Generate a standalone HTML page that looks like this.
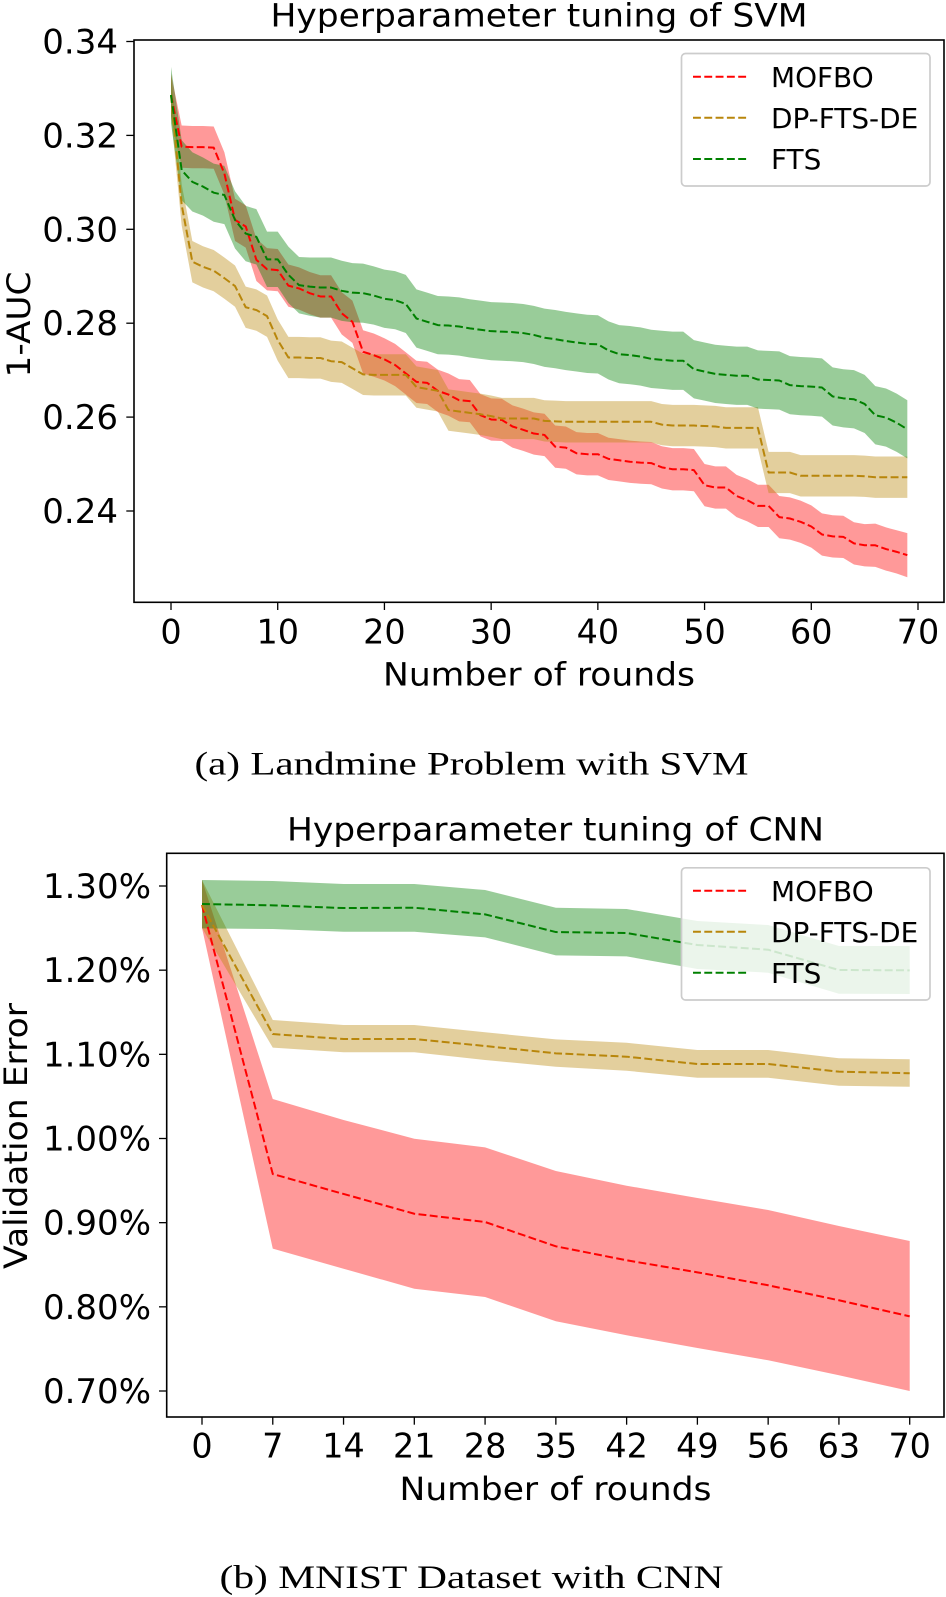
<!DOCTYPE html>
<html>
<head>
<meta charset="utf-8">
<title>Hyperparameter tuning charts</title>
<style>
html,body{margin:0;padding:0;background:#fff;}
svg{display:block;}
text{font-family:"DejaVu Sans","Liberation Sans",sans-serif;fill:#000;}
.cap{font-family:"Liberation Serif",serif;font-size:33px;}
.title,.xl,.yl{font-size:32.4px;}
.leg{font-size:27.9px;}
.tick{font-size:33.4px;}
.ytick{font-size:34px;}
</style>
</head>
<body>
<svg id="fig" xmlns="http://www.w3.org/2000/svg" width="946" height="1597" viewBox="0 0 946 1597">
  <g id="svm-chart">
    <text class="title" x="539" y="26.7" text-anchor="middle" textLength="537" lengthAdjust="spacingAndGlyphs">Hyperparameter tuning of SVM</text>
    <g id="svm-bands"></g>
    <g id="svm-lines"></g>
    <g id="svm-ticks"></g>
    <rect x="134" y="40" width="810" height="562.3" fill="none" stroke="#000" stroke-width="1.6"/>
    <text class="xl" x="539" y="685.3" text-anchor="middle" textLength="312" lengthAdjust="spacingAndGlyphs">Number of rounds</text>
    <text class="yl" transform="translate(30,324.5) rotate(-90)" text-anchor="middle" textLength="106" lengthAdjust="spacingAndGlyphs">1-AUC</text>
    <g>
      <rect x="681.5" y="53.5" width="248.5" height="132.5" rx="4" fill="#fff" fill-opacity="0.8" stroke="#ccc" stroke-width="1.7"/>
      <line x1="693" x2="746.3" y1="76.7" y2="76.7" stroke="#ff0000" stroke-width="2" stroke-dasharray="7.9 3.4"/>
      <text class="leg" x="771" y="87">MOFBO</text>
      <line x1="693" x2="746.3" y1="117.7" y2="117.7" stroke="#b8860b" stroke-width="2" stroke-dasharray="7.9 3.4"/>
      <text class="leg" x="771" y="128">DP-FTS-DE</text>
      <line x1="693" x2="746.3" y1="159" y2="159" stroke="#008000" stroke-width="2" stroke-dasharray="7.9 3.4"/>
      <text class="leg" x="771" y="169.1">FTS</text>
    </g>
    <text class="cap" x="194.5" y="774.3" textLength="554" lengthAdjust="spacingAndGlyphs">(a) Landmine Problem with SVM</text>
  </g>
  <g id="cnn-chart">
    <text class="title" x="555.5" y="840.7" text-anchor="middle" textLength="537" lengthAdjust="spacingAndGlyphs">Hyperparameter tuning of CNN</text>
    <g id="cnn-bands"></g>
    <g id="cnn-lines"></g>
    <g id="cnn-ticks"></g>
    <rect x="166.7" y="853.3" width="777.3" height="563.7" fill="none" stroke="#000" stroke-width="1.6"/>
    <text class="xl" x="555.5" y="1500" text-anchor="middle" textLength="312" lengthAdjust="spacingAndGlyphs">Number of rounds</text>
    <text class="yl" transform="translate(27,1136) rotate(-90)" text-anchor="middle" textLength="266" lengthAdjust="spacingAndGlyphs">Validation Error</text>
    <g>
      <rect x="681.5" y="867.8" width="248.5" height="132.2" rx="4" fill="#fff" fill-opacity="0.8" stroke="#ccc" stroke-width="1.7"/>
      <line x1="693" x2="746.3" y1="890.7" y2="890.7" stroke="#ff0000" stroke-width="2" stroke-dasharray="7.9 3.4"/>
      <text class="leg" x="771" y="901">MOFBO</text>
      <line x1="693" x2="746.3" y1="931.7" y2="931.7" stroke="#b8860b" stroke-width="2" stroke-dasharray="7.9 3.4"/>
      <text class="leg" x="771" y="942">DP-FTS-DE</text>
      <line x1="693" x2="746.3" y1="972.7" y2="972.7" stroke="#008000" stroke-width="2" stroke-dasharray="7.9 3.4"/>
      <text class="leg" x="771" y="982.8">FTS</text>
    </g>
    <text class="cap" x="219.5" y="1588" textLength="504" lengthAdjust="spacingAndGlyphs">(b) MNIST Dataset with CNN</text>
  </g>
</svg>
<script>
// ---- SVM chart data ----
const svmXTicks = [0,10,20,30,40,50,60,70];
const svmYTicks = [0.24,0.26,0.28,0.30,0.32,0.34];
const svmYLabels = ["0.24","0.26","0.28","0.30","0.32","0.34"];
const svmMofboMean = [0.3286,0.3176,0.3175,0.3175,0.3174,0.3119,0.3020,0.3006,0.2935,0.2915,
0.2913,0.2880,0.2874,0.2864,0.2857,0.2857,0.2821,0.2803,0.2739,0.2732,
0.2723,0.2711,0.2693,0.2675,0.2673,0.2656,0.2648,0.2636,0.2634,0.2604,
0.2595,0.2594,0.2580,0.2573,0.2565,0.2562,0.2537,0.2535,0.2523,0.2521,
0.2521,0.2511,0.2508,0.2505,0.2503,0.2502,0.2493,0.2489,0.2489,0.2487,
0.2455,0.2450,0.2450,0.2432,0.2423,0.2411,0.2411,0.2387,0.2384,0.2377,
0.2367,0.2350,0.2346,0.2345,0.2331,0.2327,0.2327,0.2319,0.2313,0.2306];
const svmMofboErr = [0.0045,0.0045,0.0045,0.0045,0.0045,0.0045,0.0045,0.0045,0.0045,0.0045,
0.0045,0.0045,0.0045,0.0045,0.0045,0.0045,0.0045,0.0045,0.0046,0.0046,
0.0045,0.0045,0.0045,0.0045,0.0045,0.0045,0.0045,0.0045,0.0045,0.0045,
0.0045,0.0045,0.0045,0.0045,0.0045,0.0045,0.0045,0.0045,0.0045,0.0045,
0.0045,0.0045,0.0045,0.0045,0.0045,0.0045,0.0045,0.0045,0.0045,0.0045,
0.0045,0.0045,0.0045,0.0045,0.0045,0.0045,0.0045,0.0045,0.0045,0.0045,
0.0045,0.0045,0.0045,0.0045,0.0045,0.0045,0.0046,0.0046,0.0046,0.0047];
const svmDpMean = [0.3286,0.3052,0.2931,0.2920,0.2912,0.2896,0.2879,0.2834,0.2828,0.2815,
0.2764,0.2727,0.2727,0.2726,0.2726,0.2719,0.2717,0.2704,0.2691,0.2690,
0.2690,0.2690,0.2690,0.2664,0.2660,0.2656,0.2615,0.2612,0.2609,0.2606,
0.2602,0.2597,0.2597,0.2597,0.2597,0.2592,0.2591,0.2590,0.2590,0.2590,
0.2590,0.2590,0.2590,0.2590,0.2590,0.2590,0.2584,0.2582,0.2582,0.2582,
0.2581,0.2580,0.2577,0.2577,0.2577,0.2577,0.2482,0.2482,0.2482,0.2475,
0.2475,0.2475,0.2475,0.2475,0.2475,0.2474,0.2472,0.2472,0.2472,0.2472];
const svmDpErr = [0.0044,0.0044,0.0044,0.0044,0.0044,0.0044,0.0044,0.0044,0.0044,0.0044,
0.0044,0.0044,0.0044,0.0044,0.0044,0.0044,0.0044,0.0044,0.0044,0.0044,
0.0044,0.0044,0.0044,0.0044,0.0044,0.0044,0.0044,0.0044,0.0044,0.0044,
0.0044,0.0044,0.0044,0.0044,0.0044,0.0044,0.0044,0.0044,0.0044,0.0044,
0.0044,0.0044,0.0044,0.0044,0.0044,0.0044,0.0044,0.0044,0.0044,0.0044,
0.0044,0.0044,0.0044,0.0044,0.0044,0.0044,0.0044,0.0044,0.0044,0.0044,
0.0044,0.0044,0.0044,0.0044,0.0044,0.0044,0.0044,0.0044,0.0044,0.0044];
const svmFtsMean = [0.3286,0.3126,0.3101,0.3091,0.3078,0.3073,0.3020,0.2991,0.2984,0.2936,
0.2936,0.2903,0.2881,0.2878,0.2876,0.2876,0.2869,0.2865,0.2864,0.2859,
0.2852,0.2849,0.2841,0.2810,0.2803,0.2796,0.2795,0.2793,0.2789,0.2786,
0.2783,0.2782,0.2781,0.2779,0.2775,0.2769,0.2766,0.2762,0.2759,0.2756,
0.2755,0.2742,0.2734,0.2732,0.2729,0.2724,0.2722,0.2720,0.2720,0.2702,
0.2697,0.2692,0.2690,0.2688,0.2688,0.2680,0.2679,0.2678,0.2668,0.2666,
0.2665,0.2663,0.2644,0.2640,0.2638,0.2628,0.2604,0.2599,0.2588,0.2574];
const svmFtsErr = [0.0060,0.0064,0.0063,0.0062,0.0062,0.0062,0.0061,0.0059,0.0059,0.0059,
0.0059,0.0060,0.0060,0.0062,0.0064,0.0064,0.0064,0.0063,0.0063,0.0062,
0.0062,0.0062,0.0062,0.0062,0.0062,0.0062,0.0062,0.0062,0.0062,0.0062,
0.0062,0.0062,0.0062,0.0062,0.0062,0.0062,0.0062,0.0062,0.0062,0.0062,
0.0062,0.0062,0.0062,0.0062,0.0062,0.0062,0.0062,0.0062,0.0062,0.0062,
0.0062,0.0062,0.0062,0.0062,0.0062,0.0062,0.0062,0.0062,0.0062,0.0062,
0.0062,0.0062,0.0062,0.0062,0.0062,0.0062,0.0062,0.0062,0.0062,0.0062];

// ---- CNN chart data ----
const cnnRounds = [0,7,14,21,28,35,42,49,56,63,70];
const cnnYTicks = [0.7,0.8,0.9,1.0,1.1,1.2,1.3];
const cnnYLabels = ["0.70%","0.80%","0.90%","1.00%","1.10%","1.20%","1.30%"];
const cnnMofboMean = [1.2774,0.9578,0.9341,0.9106,0.9008,0.8719,0.8553,0.8410,0.8256,0.8078,0.7887];
const cnnMofboUpper = [1.3071,1.0469,1.0220,0.9997,0.9895,0.9614,0.9439,0.9293,0.9150,0.8960,0.8782];
const cnnMofboLower = [1.2501,0.8691,0.8453,0.8215,0.8117,0.7828,0.7662,0.7511,0.7365,0.7187,0.7000];
const cnnDpMean = [1.2774,1.1241,1.1182,1.1182,1.1099,1.1012,1.0972,1.0885,1.0885,1.0794,1.0775];
const cnnDpUpper = [1.3071,1.1408,1.1348,1.1348,1.1262,1.1178,1.1138,1.1051,1.1051,1.0953,1.0941];
const cnnDpLower = [1.2501,1.1079,1.1024,1.1024,1.0933,1.0853,1.0805,1.0722,1.0722,1.0627,1.0615];
const cnnFtsMean = [1.2786,1.2770,1.2738,1.2742,1.2663,1.2453,1.2441,1.2299,1.2243,1.2002,1.1998];
const cnnFtsUpper = [1.3071,1.3059,1.3024,1.3024,1.2952,1.2742,1.2727,1.2584,1.2536,1.2287,1.2287];
const cnnFtsLower = [1.2497,1.2489,1.2457,1.2457,1.2390,1.2176,1.2164,1.2014,1.1970,1.1720,1.1717];

const SVGNS = "http://www.w3.org/2000/svg";
const RED = "#ff0000", GOLD = "#b8860b", GREEN = "#008000";

function scale(d0, d1, r0, r1) {
  return function (v) { return r0 + (v - d0) * (r1 - r0) / (d1 - d0); };
}
function pts(xs, ys, sx, sy) {
  return xs.map(function (x, i) { return sx(x).toFixed(2) + "," + sy(ys[i]).toFixed(2); });
}
function drawBand(parent, xs, upper, lower, sx, sy, color, name) {
  const el = document.createElementNS(SVGNS, "polygon");
  
  
  const top = pts(xs, upper, sx, sy);
  const bottom = pts(xs, lower, sx, sy).reverse();
  el.setAttribute("points", top.concat(bottom).join(" "));
  el.setAttribute("fill", color);
  el.setAttribute("fill-opacity", "0.4");
  parent.appendChild(el);
}
function drawLine(parent, xs, ys, sx, sy, color, name) {
  const el = document.createElementNS(SVGNS, "polyline");
  
  
  el.setAttribute("points", pts(xs, ys, sx, sy).join(" "));
  el.setAttribute("fill", "none");
  el.setAttribute("stroke", color);
  el.setAttribute("stroke-width", "2");
  el.setAttribute("stroke-dasharray", "7.9 3.4");
  el.setAttribute("stroke-linejoin", "round");
  parent.appendChild(el);
}
function drawXTick(parent, value, label, sx, axisY, baseY) {
  const t = document.createElementNS(SVGNS, "line");
  
  
  t.setAttribute("x1", sx(value)); t.setAttribute("x2", sx(value));
  t.setAttribute("y1", axisY); t.setAttribute("y2", axisY + 7.7);
  t.setAttribute("stroke", "#000"); t.setAttribute("stroke-width", "1.3");
  parent.appendChild(t);
  const l = document.createElementNS(SVGNS, "text");
  
  
  l.setAttribute("class", "tick");
  l.setAttribute("x", sx(value)); l.setAttribute("y", baseY);
  l.setAttribute("text-anchor", "middle");
  l.textContent = label;
  parent.appendChild(l);
}
function drawYTick(parent, value, label, sy, axisX, labelX) {
  const t = document.createElementNS(SVGNS, "line");
  
  
  t.setAttribute("x1", axisX - 7.7); t.setAttribute("x2", axisX);
  t.setAttribute("y1", sy(value)); t.setAttribute("y2", sy(value));
  t.setAttribute("stroke", "#000"); t.setAttribute("stroke-width", "1.3");
  parent.appendChild(t);
  const l = document.createElementNS(SVGNS, "text");
  
  
  l.setAttribute("class", "ytick");
  l.setAttribute("x", labelX); l.setAttribute("y", sy(value) + 12);
  l.setAttribute("text-anchor", "end");
  l.textContent = label;
  parent.appendChild(l);
}
function addErr(mean, err, sign) {
  return mean.map(function (m, i) { return m + sign * err[i]; });
}

// SVM chart
(function () {
  const sx = scale(0, 70, 171, 918);
  const sy = scale(0.24, 0.34, 511, 41.5);
  const xs = svmMofboMean.map(function (_, i) { return i; });
  const bands = document.getElementById("svm-bands");
  const lines = document.getElementById("svm-lines");
  const ticks = document.getElementById("svm-ticks");
  drawBand(bands, xs, addErr(svmMofboMean, svmMofboErr, 1), addErr(svmMofboMean, svmMofboErr, -1), sx, sy, RED, "svm-band-mofbo");
  drawBand(bands, xs, addErr(svmDpMean, svmDpErr, 1), addErr(svmDpMean, svmDpErr, -1), sx, sy, GOLD, "svm-band-dp-fts-de");
  drawBand(bands, xs, addErr(svmFtsMean, svmFtsErr, 1), addErr(svmFtsMean, svmFtsErr, -1), sx, sy, GREEN, "svm-band-fts");
  drawLine(lines, xs, svmMofboMean, sx, sy, RED, "svm-line-mofbo");
  drawLine(lines, xs, svmDpMean, sx, sy, GOLD, "svm-line-dp-fts-de");
  drawLine(lines, xs, svmFtsMean, sx, sy, GREEN, "svm-line-fts");
  svmXTicks.forEach(function (v) { drawXTick(ticks, v, String(v), sx, 602.3, 643.3); });
  svmYTicks.forEach(function (v, i) { drawYTick(ticks, v, svmYLabels[i], sy, 134, 118); });
})();

// CNN chart
(function () {
  const sx = scale(0, 70, 202, 909.7);
  const sy = scale(0.7, 1.3, 1391, 886);
  const bands = document.getElementById("cnn-bands");
  const lines = document.getElementById("cnn-lines");
  const ticks = document.getElementById("cnn-ticks");
  drawBand(bands, cnnRounds, cnnMofboUpper, cnnMofboLower, sx, sy, RED, "cnn-band-mofbo");
  drawBand(bands, cnnRounds, cnnDpUpper, cnnDpLower, sx, sy, GOLD, "cnn-band-dp-fts-de");
  drawBand(bands, cnnRounds, cnnFtsUpper, cnnFtsLower, sx, sy, GREEN, "cnn-band-fts");
  drawLine(lines, cnnRounds, cnnMofboMean, sx, sy, RED, "cnn-line-mofbo");
  drawLine(lines, cnnRounds, cnnDpMean, sx, sy, GOLD, "cnn-line-dp-fts-de");
  drawLine(lines, cnnRounds, cnnFtsMean, sx, sy, GREEN, "cnn-line-fts");
  cnnRounds.forEach(function (v) { drawXTick(ticks, v, String(v), sx, 1417, 1457.7); });
  cnnYTicks.forEach(function (v, i) { drawYTick(ticks, v, cnnYLabels[i], sy, 166.7, 151); });
})();
</script>
</body>
</html>
